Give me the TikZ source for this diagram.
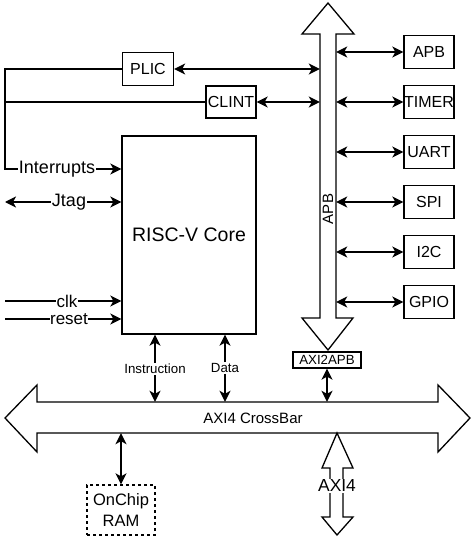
\documentclass[tikz,border=0pt]{standalone}
\usepackage{fontspec}
\setmainfont{Liberation Sans}
\usetikzlibrary{arrows.meta,positioning}

\tikzset{
  blk/.style={draw,line width=1.3pt,minimum width=50pt,minimum height=33pt,inner sep=0pt,font=\fontsize{16}{18}\selectfont},
  sig/.style={inner sep=1pt,font=\fontsize{18}{20}\selectfont},
  tiny/.style={inner sep=1pt,font=\fontsize{13.3}{15}\selectfont},
  wire/.style={line width=1.6pt},
  link/.style={line width=1.6pt,<->},
  bus/.style={draw,line width=1.3pt,fill=white,line join=miter}
}

\begin{document}
\begin{tikzpicture}[x=1pt,y=-1pt,>={Stealth[length=11pt,width=11pt,inset=3pt]}]
  \useasboundingbox (0,0) rectangle (474,537);
  \clip (0,0) rectangle (474,537);
  \draw[bus] (328,3) -- (354,34) -- (336,34) -- (336,318) -- (353,318) -- (328,350)
    -- (302,318) -- (320,318) -- (320,34) -- (302,34) -- cycle;
  \node[minimum width=16pt,minimum height=284pt,inner sep=0pt] (apb) at (328,176) {};
  \node[rotate=90,inner sep=0pt,font=\fontsize{15}{17}\selectfont] at (328,209) {APB};
  \draw[bus] (5,418) -- (37,385) -- (37,402) -- (438,402) -- (438,385) -- (470,418)
    -- (438,452) -- (438,433) -- (37,433) -- (37,452) -- cycle;
  \node[minimum width=401pt,minimum height=31pt,inner sep=0pt,font=\fontsize{15}{17}\selectfont] (xbar) at (237.5,417.5) {};
  \node[font=\fontsize{15}{17}\selectfont] at (253,418) {AXI4 CrossBar};
  \draw[bus] (337,433) -- (353,468) -- (343,468) -- (343,517) -- (353,517) -- (337,535)
    -- (322,517) -- (330,517) -- (330,468) -- (322,468) -- cycle;
  \node[fill=white,inner sep=1pt,font=\fontsize{17.4}{19}\selectfont] (axi) at (337,486) {AXI4};

  \node[draw,line width=1.3pt,minimum width=134pt,minimum height=198pt,inner sep=0pt,
    font=\fontsize{19.5}{22}\selectfont] (core) at (189,235) {RISC-V Core};
  \node[blk,minimum width=51pt] (plic) at (148,69) {PLIC};
  \node[blk,minimum height=32pt] (clint) at (231,102) {CLINT};
  \node[blk] (apbp)  at (429,52)  {APB};
  \node[blk] (timer) at (429,102) {TIMER};
  \node[blk] (uart)  at (429,152) {UART};
  \node[blk] (spi)   at (429,202) {SPI};
  \node[blk] (i2c)   at (429,252) {I2C};
  \node[blk] (gpio)  at (429,302) {GPIO};
  \node[draw,line width=1.3pt,minimum width=68pt,minimum height=16pt,inner sep=0pt,
    font=\fontsize{13.3}{15}\selectfont] (axi2apb) at (327,360) {AXI2APB};
  \node[draw,dashed,line width=1.3pt,minimum width=68pt,minimum height=50pt,inner sep=0pt,
    align=center,font=\fontsize{16.5}{21}\selectfont] (ram) at (121,510) {OnChip\\RAM};

  \node[sig] (ints)  at (57,169) {Interrupts};
  \node[sig] (jtag)  at (69,202) {Jtag};
  \node[sig,inner sep=0pt,font=\fontsize{17}{19}\selectfont] (clk)   at (67,301) {clk};
  \node[sig,inner sep=0pt,font=\fontsize{17}{19}\selectfont] (reset) at (69,319) {reset};
  \node[tiny] (instr) at (155,369) {Instruction};
  \node[tiny] (data)  at (225,368) {Data};
  \coordinate (bend) at (5,69);
  \coordinate (jtagL) at (5,202);
  \coordinate (clkL) at (5,301);
  \coordinate (resetL) at (5,319);

  \draw[link] (plic.east) -- (plic -| apb.west);
  \draw[link] (clint.east) -- (clint -| apb.west);
  \draw[link] (apbp.west) -- (apbp -| apb.east);
  \draw[link] (timer.west) -- (timer -| apb.east);
  \draw[link] (uart.west) -- (uart -| apb.east);
  \draw[link] (spi.west) -- (spi -| apb.east);
  \draw[link] (i2c.west) -- (i2c -| apb.east);
  \draw[link] (gpio.west) -- (gpio -| apb.east);

  \draw[wire] (plic.west) -- (bend) |- (ints.west);
  \draw[wire] (clint.west) -- (clint.west -| bend);
  \draw[wire,->] (ints.east) -- (ints -| core.west);
  \draw[wire,->] (jtag.west) -- (jtagL);
  \draw[wire,->] (jtag.east) -- (jtag -| core.west);
  \draw[wire] (clkL) -- (clk.west);
  \draw[wire,->] (clk.east) -- (clk -| core.west);
  \draw[wire] (resetL) -- (reset.west);
  \draw[wire,->] (reset.east) -- (reset -| core.west);

  \draw[wire,->] (instr.north) -- (instr.north |- core.south);
  \draw[wire,->] (instr.south) -- (instr.south |- xbar.north);
  \draw[wire,->] (data.north) -- (data.north |- core.south);
  \draw[wire,->] (data.south) -- (data.south |- xbar.north);
  \draw[link] (axi2apb.south) -- (axi2apb.south |- xbar.north);
  \draw[link] (ram.north) -- (ram.north |- xbar.south);
\end{tikzpicture}
\end{document}
